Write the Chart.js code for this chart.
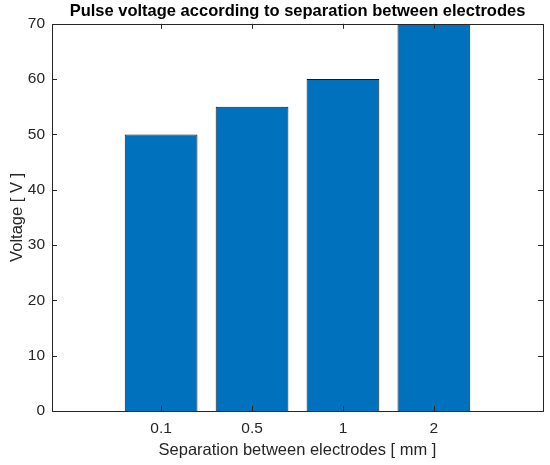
<!DOCTYPE html>
<html>
<head>
<meta charset="utf-8">
<script src="https://cdn.jsdelivr.net/npm/chart.js@4"></script>
<style>
  html, body { margin: 0; padding: 0; background: #fff; }
  #wrap { width: 550px; height: 465px; }
</style>
</head>
<body>
<div id="wrap"><canvas id="chart"></canvas></div>
<script>
// Data
const separations = ['0.1', '0.5', '1', '2'];
const voltages = [50, 55, 60, 70];
const yTicks = [0, 10, 20, 30, 40, 50, 60, 70];

const axisColor = '#262626';
const fontFamily = '"Liberation Sans", Arial, Helvetica, sans-serif';

// MATLAB style box with inward tick marks
const boxTicks = {
    id: 'boxTicks',
    afterDatasetsDraw(chart) {
        const ctx = chart.ctx;
        const a = chart.chartArea;
        const x = chart.scales.x;
        const y = chart.scales.y;
        const len = 5;
        ctx.save();
        ctx.strokeStyle = axisColor;
        ctx.lineWidth = 1;
        ctx.beginPath();
        yTicks.forEach(v => {
            const py = Math.round(y.getPixelForValue(v)) + 0.5;
            ctx.moveTo(a.left, py); ctx.lineTo(a.left + len, py);
            ctx.moveTo(a.right, py); ctx.lineTo(a.right - len, py);
        });
        separations.forEach((s, i) => {
            const px = Math.round(x.getPixelForValue(i + 1)) + 0.5;
            ctx.moveTo(px, a.bottom); ctx.lineTo(px, a.bottom - len);
            ctx.moveTo(px, a.top); ctx.lineTo(px, a.top + len);
        });
        ctx.stroke();
        ctx.strokeRect(Math.round(a.left) + 0.5, Math.round(a.top) + 0.5,
            Math.round(a.right - a.left), Math.round(a.bottom - a.top));
        ctx.restore();
    }
};

new Chart(document.getElementById('chart'), {
    type: 'bar',
    data: {
        datasets: [{
            data: voltages.map((v, i) => ({ x: i + 1, y: v })),
            backgroundColor: '#0072BD',
            borderColor: '#1a1a1a',
            borderWidth: 1,
            barPercentage: 0.8,
            categoryPercentage: 1
        }]
    },
    options: {
        responsive: true,
        maintainAspectRatio: false,
        animation: false,
        layout: { padding: { left: 0, right: 7, top: 0, bottom: 0 } },
        plugins: {
            legend: { display: false },
            tooltip: { enabled: false },
            title: {
                display: true,
                text: 'Pulse voltage according to separation between electrodes',
                fullSize: false,
                color: '#000',
                font: { family: fontFamily, size: 16.5, weight: 'bold' },
                padding: { top: 2, bottom: 2 }
            }
        },
        scales: {
            x: {
                type: 'linear',
                offset: false,
                min: -0.2,
                max: 5.2,
                grid: { display: false, drawTicks: false },
                border: { display: false },
                afterBuildTicks(scale) {
                    scale.ticks = separations.map((s, i) => ({ value: i + 1 }));
                },
                afterFit(scale) { scale.height = 54; },
                ticks: {
                    color: axisColor,
                    padding: 8,
                    font: { family: fontFamily, size: 15.5 },
                    maxRotation: 0,
                    callback: (v) => separations[v - 1]
                },
                title: {
                    display: true,
                    text: 'Separation between electrodes [ mm ]',
                    color: axisColor,
                    font: { family: fontFamily, size: 16.5 },
                    padding: { top: 2, bottom: 5 }
                }
            },
            y: {
                min: 0,
                max: 70,
                grid: { display: false, drawTicks: false },
                border: { display: false },
                afterBuildTicks(scale) {
                    scale.ticks = yTicks.map(v => ({ value: v }));
                },
                afterFit(scale) { scale.width = 52; },
                ticks: {
                    color: axisColor,
                    padding: 7,
                    font: { family: fontFamily, size: 15.5 }
                },
                title: {
                    display: true,
                    text: 'Voltage [ V ]',
                    color: axisColor,
                    font: { family: fontFamily, size: 16.5 },
                    padding: { top: 8, bottom: 0 }
                }
            }
        }
    },
    plugins: [boxTicks]
});
</script>
</body>
</html>
